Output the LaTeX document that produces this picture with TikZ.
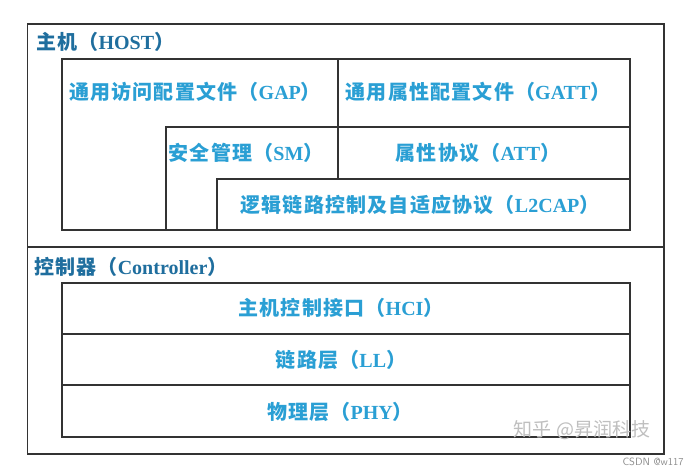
\documentclass[tikz,border=0pt]{standalone}
\usepackage{fontspec}
\newfontfamily\cjk[LetterSpace=6]{Noto Sans CJK SC}
\newfontfamily\latn{Liberation Serif}
\newfontfamily\wmfont{Noto Sans CJK SC}
\definecolor{lblblue}{HTML}{2A9FD4}
\definecolor{headblue}{HTML}{1F6E9E}
\definecolor{linegray}{HTML}{333333}
\newcommand{\lbl}[2]{{\cjk\bfseries #1（}{\latn\bfseries #2}{\cjk\bfseries ）}}
\tikzset{
  frame/.style={draw=linegray, line width=1.1pt},
  outerframe/.style={draw=linegray, line width=1.4pt},
  lbltext/.style={text=lblblue, font=\fontsize{20}{23}\selectfont, inner sep=0pt},
  headtext/.style={text=headblue, font=\fontsize{20}{23}\selectfont, inner sep=0pt, anchor=west},
  wmark/.style={text=black!25, inner sep=0pt}
}
\begin{document}
\begin{tikzpicture}[x=1pt,y=-1pt]
\useasboundingbox (0,0) rectangle (700,475);
\fill[white] (0,0) rectangle (700,475);
% outer frame and divider
\draw[outerframe] (27.5,24) rectangle (664,454);
\draw[outerframe] (27.5,247) -- (664,247);
% host inner
\draw[frame] (62,59) rectangle (630,230);
\draw[frame] (338,59) -- (338,127);
\draw[frame] (166,230) -- (166,127) -- (630,127);
\draw[frame] (338,127) -- (338,179);
\draw[frame] (217,230) -- (217,179) -- (630,179);
% controller inner
\draw[frame] (62,283) rectangle (630,437);
\draw[frame] (62,334) -- (630,334);
\draw[frame] (62,385) -- (630,385);
% labels
\node[headtext] (host) at (36,42) {\lbl{主机}{HOST}};
\node[lbltext] (gap) at (195,92) {\lbl{通用访问配置文件}{GAP}};
\node[lbltext] (gatt) at (478,92) {\lbl{通用属性配置文件}{GATT}};
\node[lbltext] (sm) at (246,153) {\lbl{安全管理}{SM}};
\node[lbltext] (att) at (478,153) {\lbl{属性协议}{ATT}};
\node[lbltext] (l2cap) at (420,205) {\lbl{逻辑链路控制及自适应协议}{L2CAP}};
\node[headtext] (ctrl) at (34,267) {\lbl{控制器}{Controller}};
\node[lbltext] (hci) at (341,308) {\lbl{主机控制接口}{HCI}};
\node[lbltext] (ll) at (341,360) {\lbl{链路层}{LL}};
\node[lbltext] (phy) at (340,412) {\lbl{物理层}{PHY}};
% watermarks
\node[wmark, font=\wmfont\fontsize{19}{22}\selectfont] (wm1) at (582,430) {知乎 @昇润科技};
\node[wmark, font=\sffamily\fontsize{10.5}{12}\selectfont, text=black!45] (wm2) at (653,462) {CSDN @w117};
\end{tikzpicture}
\end{document}
